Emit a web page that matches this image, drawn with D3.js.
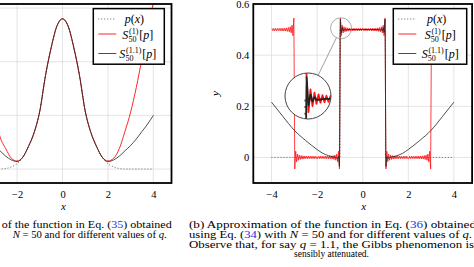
<!DOCTYPE html>
<html>
<head>
<meta charset="utf-8">
<script src="https://cdn.jsdelivr.net/npm/d3@7"></script>
<style>
  html, body { margin: 0; padding: 0; background: #fff; overflow: hidden; }
  svg { display: block; }
  text { white-space: pre; }
</style>
</head>
<body>
<svg id="chart" width="474" height="267" font-family="'Liberation Serif', 'Times New Roman', serif"></svg>
<script>
// ---- shared ----
const xDomain = [-4.8, 4.8];
const xTicks = [-4, -2, 0, 2, 4];

// ---- (a) function of Eq. (35) ----
const leftYTicks = [0, 0.5, 1, 1.5];
const leftX   = [-4, -3.75, -3.5, -3.25, -3, -2.75, -2.5, -2.25, -2, -1.75, -1.5, -1.25, -1, -0.75, -0.5, -0.25, 0,
                 0.25, 0.5, 0.75, 1, 1.25, 1.5, 1.75, 2, 2.25, 2.5, 2.75, 3, 3.25, 3.5, 3.75, 4];
const leftP   = [0, 0, 0, 0, 0, 0, 0.005, 0.02, 0.05, 0.11, 0.21, 0.34, 0.54, 0.87, 1.13, 1.33, 1.40,
                 1.33, 1.13, 0.87, 0.54, 0.34, 0.21, 0.11, 0.05, 0.02, 0.005, 0, 0, 0, 0, 0, 0];
const leftS1  = [1.55, 1.30, 1.03, 0.76, 0.53, 0.30, 0.19, 0.10, 0.075, 0.11, 0.21, 0.34, 0.54, 0.87, 1.13, 1.33, 1.40,
                 1.33, 1.13, 0.87, 0.54, 0.34, 0.21, 0.11, 0.075, 0.10, 0.19, 0.35, 0.53, 0.76, 1.03, 1.30, 1.55];
const leftS11 = [0.50, 0.42, 0.35, 0.28, 0.22, 0.17, 0.12, 0.085, 0.07, 0.11, 0.21, 0.34, 0.54, 0.87, 1.13, 1.33, 1.40,
                 1.33, 1.13, 0.87, 0.54, 0.34, 0.21, 0.11, 0.07, 0.085, 0.12, 0.17, 0.22, 0.28, 0.35, 0.42, 0.50];

// ---- (b) function of Eq. (36) ----
const rightYTicks = [0, 0.2, 0.4, 0.6];
const pStepX = [-4, -1, -1, 1, 1, 4];
const pStepY = [0, 0, 0.5, 0.5, 0, 0];
const redBounds = [-4, -3, -1, 1, 3, 4];
const redLevels = [0.5, 0, 0.5, 0, 0.5];
const rippleStep = 0.04;
// overshoot / ripple read away from each jump (high side sign)
const gibbsRipple = [0.045, -0.024, 0.017, -0.013, 0.011, -0.009, 0.008, -0.007, 0.0065, -0.006, 0.0055, -0.0055,
                     0.005, -0.005, 0.005, -0.005, 0.0045, -0.0045, 0.0045, -0.0045, 0.0045, -0.0045, 0.0045, -0.0045, 0.0045];
// S_50^(1.1) for x <= 0 (the curve is even)
const blackHalfX = [-4, -3.5, -3, -2.5, -2, -1.75, -1.5, -1.3, -1.18, -1.1, -1.06, -1.02, -0.98, -0.94, -0.9, -0.86, -0.82, -0.78, -0.6, -0.3, 0];
const blackHalfY = [0.216, 0.16, 0.106, 0.066, 0.031, 0.016, 0.007, 0.002, 0, -0.004, 0.004, -0.035, 0.54, 0.488, 0.508, 0.495, 0.503, 0.498, 0.5, 0.5, 0.5];

// zoom lens of panel (b)
const spyAt = [-0.95, 0.505];
const spyLens = { cx: 308, cy: 96, r: 23, small: 10.5 };

const legendSup = ['(1)', '(1.1)'];

const captionLeft = [
  { hidden: [['(a) Approximation ', 'r']], shown: [['of the function in Eq. (', 'r'], ['35', 'b'], [') obtained', 'r']], x: 1.7, len: 170, y: 227.5 },
  { hidden: [['using Eq. (', 'r'], ['34', 'b'], [') with', 'r']], shown: [['N', 'i'], [' = 50 and for different values of ', 'r'], ['q', 'i'], ['.', 'r']], x: 12.7, len: 154, y: 237.5 }
];
const captionRight = [
  { segs: [['(b) Approximation of the function in Eq. (', 'r'], ['36', 'b'], [') obtained', 'r']], len: 287, y: 227.5 },
  { segs: [['using Eq. (', 'r'], ['34', 'b'], [') with ', 'r'], ['N', 'i'], [' = 50 and for different values of ', 'r'], ['q', 'i'], ['.', 'r']], len: 283, y: 237.5 },
  { segs: [['Observe that, for say ', 'r'], ['q', 'i'], [' = 1.1, the Gibbs phenomenon is', 'r']], len: 285, y: 247.5 },
  { segs: [['sensibly attenuated.', 'r']], len: 75, y: 257, centre: 331.5 }
];

const RED = '#ff1010';
const GRID = '#d9d9d9';
const svg = d3.select('#chart');

const xL = d3.scaleLinear().domain(xDomain).range([-46.5, 171.5]);
const yL = d3.scaleLinear().domain([-0.13, 1.538]).range([183, 4]);
const xR = d3.scaleLinear().domain(xDomain).range([253.3, 472.1]);
const yR = d3.scaleLinear().domain([-0.1, 0.6]).range([183, 4]);

function drawGrid(g, x, y, yTicks) {
  const [y1, y0] = y.range();
  const [x0, x1] = x.range();
  g.append('g').selectAll('line').data(xTicks).join('line')
    .attr('x1', d => x(d)).attr('x2', d => x(d)).attr('y1', y0).attr('y2', y1)
    .attr('stroke', GRID).attr('stroke-width', 0.7);
  g.append('g').selectAll('line').data(yTicks).join('line')
    .attr('x1', x0).attr('x2', x1).attr('y1', d => y(d)).attr('y2', d => y(d))
    .attr('stroke', GRID).attr('stroke-width', 0.7);
}

// labels only where they fall inside the picture (panel (a) is cut on the left)
function drawAxes(g, x, y, yTicks, withY) {
  const fmt = d3.format('~g');
  const shownX = xTicks.filter(d => x(d) > 0);
  const axes = [g.append('g').attr('transform', `translate(0,${y.range()[0]})`)
    .call(d3.axisBottom(x).tickValues(shownX).tickSize(0).tickPadding(7.3).tickFormat(fmt))];
  if (withY) {
    axes.push(g.append('g').attr('transform', `translate(${x.range()[0]},0)`)
      .call(d3.axisLeft(y).tickValues(yTicks).tickSize(0).tickPadding(4).tickFormat(fmt)));
  }
  axes.forEach(a => {
    a.select('.domain').remove();
    a.attr('font-family', null).attr('font-size', null);
    a.selectAll('text').attr('font-size', 10.5);
  });
  const midX = (x.range()[0] + x.range()[1]) / 2;
  g.append('text').attr('x', midX + 1).attr('y', 210).attr('text-anchor', 'middle')
    .attr('font-size', 11).attr('font-style', 'italic').text('x');
  if (withY) {
    g.append('text').attr('transform', `translate(${x.range()[0] - 34},${(y.range()[0] + y.range()[1]) / 2}) rotate(-90)`)
      .attr('text-anchor', 'middle').attr('font-size', 11).attr('font-style', 'italic').text('y');
  }
}

function drawFrame(g, x, y) {
  g.append('rect')
    .attr('x', x.range()[0]).attr('y', y.range()[1])
    .attr('width', x.range()[1] - x.range()[0]).attr('height', y.range()[0] - y.range()[1])
    .attr('fill', 'none').attr('stroke', '#000').attr('stroke-width', 1.8);
}

function drawLegend(g, x0, w) {
  const top = 8.6, h = 55.6, cx = x0 + w - 26.5;
  const rows = [19, 34, 53.5];
  g.append('rect').attr('x', x0).attr('y', top).attr('width', w).attr('height', h)
    .attr('fill', '#fff').attr('stroke', '#000').attr('stroke-width', 1.5);
  const sample = [
    { stroke: '#555', width: 1, dash: '0.9,2.1' },
    { stroke: RED, width: 0.9, dash: null },
    { stroke: '#222', width: 0.8, dash: null }
  ];
  sample.forEach((s, i) => {
    g.append('line').attr('x1', x0 + 5).attr('x2', x0 + 23).attr('y1', rows[i]).attr('y2', rows[i])
      .attr('stroke', s.stroke).attr('stroke-width', s.width).attr('stroke-dasharray', s.dash);
  });
  const p = g.append('text').attr('x', cx - 3.5).attr('y', rows[0] + 3.5).attr('font-size', 12).attr('text-anchor', 'middle');
  p.append('tspan').attr('font-style', 'italic').text('p');
  p.append('tspan').text('(');
  p.append('tspan').attr('font-style', 'italic').text('x');
  p.append('tspan').text(')');

  legendSup.forEach((sup, i) => {
    const by = rows[i + 1] + 4.8;
    const grp = g.append('g');
    const S = grp.append('text').attr('x', 0).attr('y', by).attr('font-style', 'italic').attr('font-size', 12).text('S');
    const sw = S.node().getComputedTextLength();
    const supT = grp.append('text').attr('x', sw + 0.8).attr('y', by - 5).attr('font-size', 8).text(sup);
    const subT = grp.append('text').attr('x', sw + 0.2).attr('y', by + 2.8).attr('font-size', 8).text('50');
    const w2 = Math.max(supT.node().getComputedTextLength() + 0.6, subT.node().getComputedTextLength());
    const br = grp.append('text').attr('x', sw + w2 + 1.2).attr('y', by).attr('font-size', 12);
    br.append('tspan').text('[');
    br.append('tspan').attr('font-style', 'italic').text('p');
    br.append('tspan').text(']');
    const total = sw + w2 + 1.2 + br.node().getComputedTextLength();
    grp.attr('transform', `translate(${cx - total / 2},0)`);
  });
}

function clipRect(id, x, y) {
  svg.append('clipPath').attr('id', id).append('rect')
    .attr('x', x.range()[0]).attr('y', y.range()[1])
    .attr('width', x.range()[1] - x.range()[0]).attr('height', y.range()[0] - y.range()[1]);
}

// ================= panel (a) =================
const gL = svg.append('g');
clipRect('clipL', xL, yL);
drawGrid(gL, xL, yL, leftYTicks);
const lineL = d3.line().x(d => xL(d[0])).y(d => yL(d[1])).curve(d3.curveMonotoneX);
const seriesL = gL.append('g').attr('clip-path', 'url(#clipL)');
seriesL.append('path').attr('d', lineL(leftX.map((x, i) => [x, leftP[i]])))
  .attr('fill', 'none').attr('stroke', '#555').attr('stroke-width', 1).attr('stroke-dasharray', '0.9,2.1');
seriesL.append('path').attr('d', lineL(leftX.map((x, i) => [x, leftS1[i]])))
  .attr('fill', 'none').attr('stroke', RED).attr('stroke-width', 0.9);
seriesL.append('path').attr('d', lineL(leftX.map((x, i) => [x, leftS11[i]])))
  .attr('fill', 'none').attr('stroke', '#222').attr('stroke-width', 0.8);
drawAxes(gL, xL, yL, leftYTicks, false);
drawLegend(gL, 93.3, 71);
drawFrame(gL, xL, yL);

// ================= panel (b) =================
const gR = svg.append('g');
clipRect('clipR', xR, yR);
drawGrid(gR, xR, yR, rightYTicks);

function redPoints() {
  const pts = [];
  const nSeg = redLevels.length;
  for (let s = 0; s < nSeg; s++) {
    const a = redBounds[s], b = redBounds[s + 1], L = redLevels[s];
    const sign = L > 0.25 ? 1 : -1;
    const n = Math.round((b - a) / rippleStep);
    for (let k = 0; k < n; k++) {
      const dA = s > 0 ? k : Infinity;
      const dB = s < nSeg - 1 ? n - 1 - k : Infinity;
      const idx = Math.min(dA, dB, gibbsRipple.length - 1);
      pts.push([a + rippleStep * (k + 0.5), L + sign * gibbsRipple[idx]]);
    }
  }
  return pts;
}
const redPts = redPoints();
const blackPts = blackHalfX.map((x, i) => [x, blackHalfY[i]])
  .concat(blackHalfX.slice(0, -1).map((x, i) => [-x, blackHalfY[i]]).reverse());
const pPts = pStepX.map((x, i) => [x, pStepY[i]]);

function drawRightSeries(g) {
  const lin = d3.line().x(d => xR(d[0])).y(d => yR(d[1]));
  const smooth = d3.line().x(d => xR(d[0])).y(d => yR(d[1])).curve(d3.curveMonotoneX);
  g.append('path').attr('d', lin(pPts)).attr('fill', 'none')
    .attr('stroke', '#555').attr('stroke-width', 1).attr('stroke-dasharray', '0.9,2.1');
  g.append('path').attr('d', lin(redPts)).attr('fill', 'none')
    .attr('stroke', RED).attr('stroke-width', 0.8).attr('stroke-linejoin', 'round');
  g.append('path').attr('d', smooth(blackPts)).attr('fill', 'none')
    .attr('stroke', '#222').attr('stroke-width', 0.8);
}
drawRightSeries(gR.append('g').attr('clip-path', 'url(#clipR)'));

// zoom lens
const sx = xR(spyAt[0]), sy = yR(spyAt[1]);
const k = spyLens.r / spyLens.small;
const ang = Math.atan2(sy - spyLens.cy, sx - spyLens.cx);
gR.append('line')
  .attr('x1', spyLens.cx + spyLens.r * Math.cos(ang)).attr('y1', spyLens.cy + spyLens.r * Math.sin(ang))
  .attr('x2', sx - spyLens.small * Math.cos(ang)).attr('y2', sy - spyLens.small * Math.sin(ang))
  .attr('stroke', '#777').attr('stroke-width', 0.7);
gR.append('circle').attr('cx', sx).attr('cy', sy).attr('r', spyLens.small)
  .attr('fill', 'none').attr('stroke', '#888').attr('stroke-width', 0.7);
svg.append('clipPath').attr('id', 'clipSpy').append('circle')
  .attr('cx', spyLens.cx).attr('cy', spyLens.cy).attr('r', spyLens.r);
gR.append('circle').attr('cx', spyLens.cx).attr('cy', spyLens.cy).attr('r', spyLens.r).attr('fill', '#fff');
drawRightSeries(gR.append('g').attr('clip-path', 'url(#clipSpy)').append('g')
  .attr('transform', `translate(${spyLens.cx},${spyLens.cy}) scale(${k}) translate(${-sx},${-sy})`));
gR.append('circle').attr('cx', spyLens.cx).attr('cy', spyLens.cy).attr('r', spyLens.r)
  .attr('fill', 'none').attr('stroke', '#444').attr('stroke-width', 1);

drawAxes(gR, xR, yR, rightYTicks, true);
drawLegend(gR, 393.3, 73.4);
drawFrame(gR, xR, yR);

// ================= captions =================
function rich(g, segs, x, y) {
  const t = g.append('text').attr('x', x).attr('y', y).attr('font-size', 10.5);
  segs.forEach(([s, st]) => {
    const ts = t.append('tspan').text(s);
    if (st === 'i') ts.attr('font-style', 'italic');
    if (st === 'b') ts.attr('fill', '#2b2be6');
  });
  return t;
}
const gc = svg.append('g');
captionLeft.forEach(line => {
  // the beginning of each line of caption (a) lies left of the picture
  rich(gc, line.hidden, -1, line.y).attr('text-anchor', 'end');
  rich(gc, line.shown, line.x, line.y).attr('textLength', line.len).attr('lengthAdjust', 'spacingAndGlyphs');
});
captionRight.forEach(line => {
  const x = line.centre ? line.centre - line.len / 2 : 189;
  rich(gc, line.segs, x, line.y).attr('textLength', line.len).attr('lengthAdjust', 'spacingAndGlyphs');
});
</script>
</body>
</html>
